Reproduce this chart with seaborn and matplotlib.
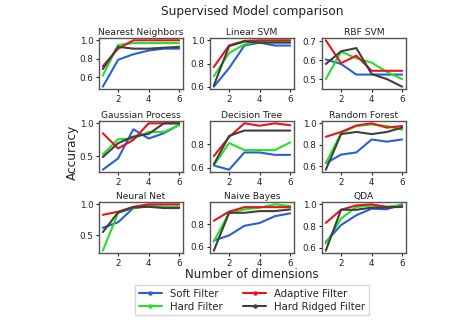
import numpy as np
import pandas as pd
import matplotlib
matplotlib.use("Agg")
import matplotlib.pyplot as plt
from matplotlib.lines import Line2D
import seaborn as sns

dims = [1, 2, 3, 4, 5, 6]
models = ["Nearest Neighbors", "Linear SVM", "RBF SVM",
          "Gaussian Process", "Decision Tree", "Random Forest",
          "Neural Net", "Naive Bayes", "QDA"]
filters = ["Soft Filter", "Hard Filter", "Adaptive Filter", "Hard Ridged Filter"]

soft = {
    "Nearest Neighbors": [0.50, 0.79, 0.85, 0.89, 0.91, 0.91],
    "Linear SVM":        [0.60, 0.76, 0.955, 0.98, 0.955, 0.955],
    "RBF SVM":           [0.604, 0.58, 0.524, 0.524, 0.524, 0.524],
    "Gaussian Process":  [0.30, 0.47, 0.91, 0.77, 0.85, 0.98],
    "Decision Tree":     [0.62, 0.585, 0.73, 0.73, 0.71, 0.71],
    "Random Forest":     [0.63, 0.71, 0.73, 0.85, 0.83, 0.85],
    "Neural Net":        [0.62, 0.71, 0.94, 0.97, 0.96, 0.96],
    "Naive Bayes":       [0.655, 0.70, 0.785, 0.81, 0.87, 0.895],
    "QDA":               [0.655, 0.81, 0.90, 0.96, 0.955, 1.0],
}
hard = {
    "Nearest Neighbors": [0.62, 0.95, 0.97, 0.97, 0.97, 0.97],
    "Linear SVM":        [0.69, 0.89, 0.965, 0.99, 0.995, 0.995],
    "RBF SVM":           [0.50, 0.645, 0.61, 0.587, 0.538, 0.50],
    "Gaussian Process":  [0.53, 0.76, 0.77, 0.87, 0.87, 0.97],
    "Decision Tree":     [0.62, 0.81, 0.75, 0.75, 0.75, 0.815],
    "Random Forest":     [0.63, 0.91, 0.975, 0.99, 0.975, 0.94],
    "Neural Net":        [0.25, 0.86, 0.94, 0.97, 0.96, 0.96],
    "Naive Bayes":       [0.645, 0.90, 0.93, 0.945, 0.975, 0.96],
    "QDA":               [0.64, 0.87, 0.975, 0.99, 0.98, 0.99],
}
adaptive = {
    "Nearest Neighbors": [0.72, 0.91, 1.0, 1.0, 1.0, 1.0],
    "Linear SVM":        [0.77, 0.956, 0.995, 1.0, 1.0, 1.0],
    "RBF SVM":           [0.705, 0.584, 0.624, 0.544, 0.544, 0.544],
    "Gaussian Process":  [0.85, 0.62, 0.75, 1.0, 1.0, 1.0],
    "Decision Tree":     [0.70, 0.86, 0.976, 0.956, 0.976, 0.96],
    "Random Forest":     [0.875, 0.92, 0.98, 1.0, 0.96, 0.975],
    "Neural Net":        [0.83, 0.88, 0.96, 1.0, 1.0, 1.0],
    "Naive Bayes":       [0.83, 0.91, 0.95, 0.95, 0.95, 0.95],
    "QDA":               [0.83, 0.95, 0.99, 1.0, 0.975, 0.975],
}
ridged = {
    "Nearest Neighbors": [0.69, 0.93, 0.91, 0.91, 0.92, 0.93],
    "Linear SVM":        [0.61, 0.95, 0.99, 0.98, 0.98, 0.98],
    "RBF SVM":           [0.58, 0.647, 0.664, 0.527, 0.50, 0.46],
    "Gaussian Process":  [0.49, 0.70, 0.80, 0.84, 1.0, 1.0],
    "Decision Tree":     [0.63, 0.87, 0.915, 0.915, 0.915, 0.915],
    "Random Forest":     [0.57, 0.90, 0.92, 0.90, 0.92, 0.96],
    "Neural Net":        [0.55, 0.87, 0.95, 0.96, 0.94, 0.94],
    "Naive Bayes":       [0.565, 0.90, 0.90, 0.915, 0.915, 0.93],
    "QDA":               [0.575, 0.95, 0.95, 0.97, 0.97, 0.98],
}
yticks = {
    "Nearest Neighbors": [0.6, 0.8, 1.0],
    "Linear SVM":        [0.6, 0.8, 1.0],
    "RBF SVM":           [0.5, 0.6, 0.7],
    "Gaussian Process":  [0.5, 1.0],
    "Decision Tree":     [0.6, 0.8],
    "Random Forest":     [0.6, 0.8, 1.0],
    "Neural Net":        [0.5, 1.0],
    "Naive Bayes":       [0.6, 0.8],
    "QDA":               [0.6, 0.8, 1.0],
}
xticks = [2, 4, 6]

series = {"Soft Filter": soft, "Hard Filter": hard,
          "Adaptive Filter": adaptive, "Hard Ridged Filter": ridged}
colors = {"Soft Filter": "#2a5fd8", "Hard Filter": "#25e025",
          "Adaptive Filter": "#e8141c", "Hard Ridged Filter": "#3f3f3f"}

rows = []
for f in filters:
    for m in models:
        for d, v in zip(dims, series[f][m]):
            rows.append({"model": m, "filter": f, "dims": d, "acc": v})
df = pd.DataFrame(rows)

sns.set_theme(style="white")
plt.rcParams["font.family"] = ["DejaVu Sans"]

W, H = 474, 323
fig = plt.figure(figsize=(W / 100, H / 100), dpi=100)

lefts = [99, 210, 322]
tops = [38, 121, 202]
aw, ah = 84, 51
for i, m in enumerate(models):
    r, c = divmod(i, 3)
    ax = fig.add_axes([lefts[c] / W, 1 - (tops[r] + ah) / H, aw / W, ah / H])
    sub = df[df["model"] == m]
    sns.lineplot(data=sub, x="dims", y="acc", hue="filter", hue_order=filters,
                 palette=colors, linewidth=1.5, ax=ax, legend=False)
    ax.set_title(m, fontsize=6.6, pad=2.5, color="#222222")
    ax.set_xlabel("")
    ax.set_ylabel("")
    ax.set_xticks(xticks)
    ax.set_yticks(yticks[m])
    ax.tick_params(labelsize=6.3, length=2.5, width=0.8, pad=1.5,
                   bottom=True, left=True, colors="#222222")
    for s in ax.spines.values():
        s.set_color("#555555")
        s.set_linewidth(1.0)

fig.text(252 / W, 1 - 11 / H, "Supervised Model comparison", ha="center",
         va="center", fontsize=8.7, color="#222222")
fig.text(72 / W, 1 - 152 / H, "Accuracy", rotation=90, ha="center",
         va="center", fontsize=8.7, color="#222222")
fig.text(252 / W, 1 - 275 / H, "Number of dimensions", ha="center",
         va="center", fontsize=8.5, color="#222222")

handles = [Line2D([0], [0], color=colors[f], lw=1.5, marker="o", markersize=2.2)
           for f in filters]
fig.legend(handles, filters, ncol=2, loc="upper center",
           bbox_to_anchor=(252 / W, 1 - 280 / H), fontsize=7.3,
           frameon=True, handlelength=2.3, columnspacing=2.0,
           handletextpad=0.8, labelspacing=0.3, borderpad=0.35,
           edgecolor="#cccccc", fancybox=False)

fig.savefig("out.png", dpi=100)
